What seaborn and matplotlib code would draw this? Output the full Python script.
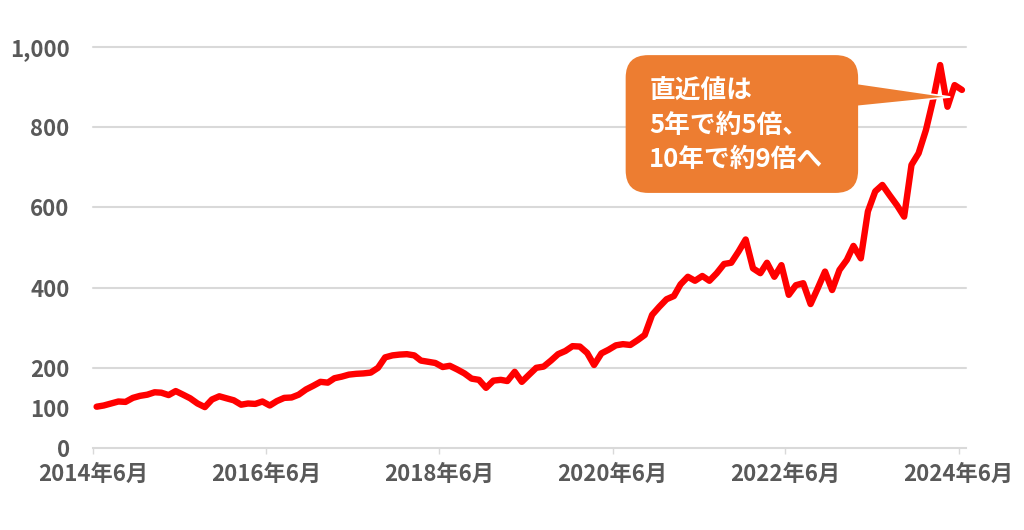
"""
Index chart (2014年6月 = 100) with an orange callout.
"""

import pandas as pd
import matplotlib.pyplot as plt
import seaborn as sns
from matplotlib.patches import FancyBboxPatch, Polygon

# Monthly values, June 2014 .. June 2024
index_values = [
    103, 106, 111, 116, 115, 125, 130, 133, 139, 138,
    132, 142, 133, 124, 111, 102, 121, 129, 124, 119,
    108, 111, 110, 116, 106, 117, 125, 126, 133, 146,
    155, 165, 163, 174, 178, 183, 185, 186, 188, 200,
    226, 231, 233, 234, 231, 218, 215, 212, 202, 205,
    196, 186, 173, 170, 150, 168, 170, 167, 190, 165,
    183, 200, 203, 218, 234, 242, 254, 253, 237, 207,
    236, 245, 256, 259, 257, 269, 282, 332, 352, 371,
    379, 408, 427, 417, 429, 417, 436, 459, 462, 490,
    520, 448, 436, 462, 427, 456, 382, 406, 411, 359,
    398, 440, 394, 444, 469, 504, 473, 590, 640, 656,
    630, 605, 577, 706, 735, 793, 870, 955, 851, 905,
    893,
]
start_month = "2014-06-01"

y_ticks = [0, 100, 200, 400, 600, 800, 1000]
y_tick_labels = ["0", "100", "200", "400", "600", "800", "1,000"]
grid_values = [200, 400, 600, 800, 1000]
x_tick_years = [2014, 2016, 2018, 2020, 2022, 2024]
callout_text = "直近値は\n5年で約5倍、\n10年で約9倍へ"

LINE_RED = "#FF0000"
CALLOUT_ORANGE = "#ED7D31"
GRID_GRAY = "#D9D9D9"
TEXT_GRAY = "#595959"


def build_frame():
    """Data frame with one point per month, placed mid-month."""
    months = pd.date_range(start_month, periods=len(index_values), freq="MS")
    return pd.DataFrame({"date": months + pd.Timedelta(days=14),
                         "value": index_values})


def plot_chart(df):
    sns.set_theme(style="white")
    plt.rcParams["font.family"] = ["Noto Sans CJK JP", "DejaVu Sans"]

    fig = plt.figure(figsize=(10.24, 5.30), dpi=100)
    ax = fig.add_axes([0.0911, 0.1547, 0.852, 0.7566])

    # horizontal grid (no line at 100)
    for g in grid_values:
        ax.axhline(g, color=GRID_GRAY, lw=1.5, zorder=0, clip_on=False)

    sns.lineplot(data=df, x="date", y="value", ax=ax, color=LINE_RED,
                 linewidth=4.6, solid_joinstyle="round",
                 solid_capstyle="round", zorder=3)

    ax.set_ylim(0, 1000)
    ax.set_xlim(pd.Timestamp("2014-06-01"), pd.Timestamp("2024-07-01"))

    ax.set_yticks(y_ticks)
    ax.set_yticklabels(y_tick_labels)
    x_ticks = [pd.Timestamp(f"{y}-06-01") for y in x_tick_years]
    ax.set_xticks(x_ticks)
    ax.set_xticklabels([f"{y}年6月" for y in x_tick_years])

    ax.set_xlabel("")
    ax.set_ylabel("")
    for side in ["top", "right", "left"]:
        ax.spines[side].set_visible(False)
    ax.spines["bottom"].set_color(GRID_GRAY)
    ax.spines["bottom"].set_linewidth(1.5)

    ax.tick_params(axis="y", length=0, pad=17, labelsize=16,
                   labelcolor=TEXT_GRAY)
    ax.tick_params(axis="x", direction="out", length=4.5, width=1,
                   color=GRID_GRAY, pad=6, labelsize=16,
                   labelcolor=TEXT_GRAY, bottom=True)
    for lab in ax.get_xticklabels() + ax.get_yticklabels():
        lab.set_fontweight("bold")

    # callout bubble: pointer first, box on top hides the pointer's base edge
    wedge = Polygon([(0.80, 0.853), (0.80, 0.792), (0.928, 0.817)],
                    closed=True, transform=fig.transFigure,
                    facecolor=CALLOUT_ORANGE, edgecolor="white", lw=1.2,
                    zorder=5)
    fig.patches.append(wedge)
    box = FancyBboxPatch((0.611, 0.636), 0.227, 0.26,
                         boxstyle="round,pad=0,rounding_size=0.022",
                         transform=fig.transFigure, facecolor=CALLOUT_ORANGE,
                         edgecolor="none", zorder=5.5, mutation_aspect=1.93)
    fig.patches.append(box)
    fig.text(0.634, 0.764, callout_text, color="white", fontsize=18.5,
             fontweight="bold", ha="left", va="center", linespacing=1.35,
             zorder=6)

    fig.savefig("out.png", dpi=100)
    plt.close(fig)


def main():
    df = build_frame()
    plot_chart(df)


if __name__ == "__main__":
    main()
